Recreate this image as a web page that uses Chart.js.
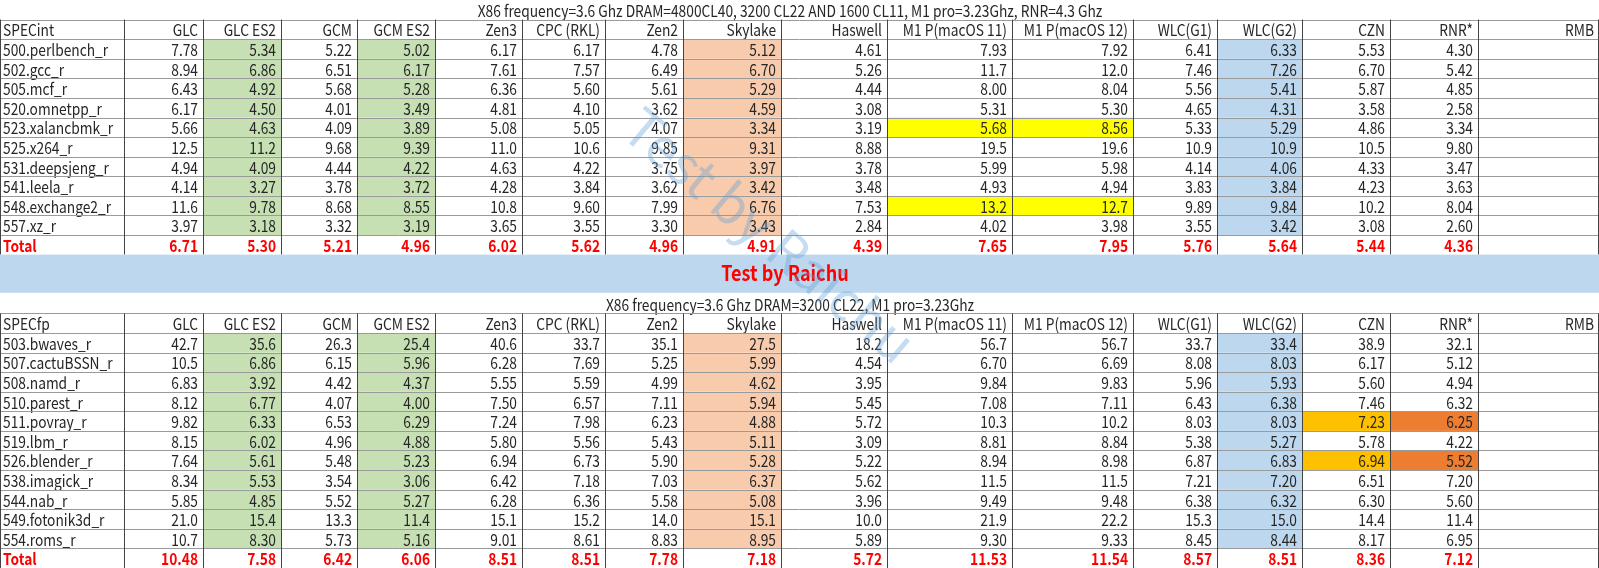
<!DOCTYPE html>
<html><head><meta charset="utf-8">
<script src="https://cdn.jsdelivr.net/npm/chart.js@4"></script>
<style>html,body{margin:0;padding:0;background:#fff}#wrap{width:1599px;height:568px}</style>
</head><body><div id="wrap"><canvas id="c"></canvas></div>
<script>
const columns = ["GLC","GLC ES2","GCM","GCM ES2","Zen3","CPC (RKL)","Zen2","Skylake","Haswell","M1 P(macOS 11)","M1 P(macOS 12)","WLC(G1)","WLC(G2)","CZN","RNR*","RMB"];
const intTitle = "X86 frequency=3.6 Ghz DRAM=4800CL40, 3200 CL22 AND 1600 CL11, M1 pro=3.23Ghz, RNR=4.3 Ghz";
const fpTitle = "X86 frequency=3.6 Ghz DRAM=3200 CL22, M1 pro=3.23Ghz";
const bandText = "Test by Raichu";
const intNames = ["500.perlbench_r","502.gcc_r","505.mcf_r","520.omnetpp_r","523.xalancbmk_r","525.x264_r","531.deepsjeng_r","541.leela_r","548.exchange2_r","557.xz_r"];
const intValues = [
 [7.78,5.34,5.22,5.02,6.17,6.17,4.78,5.12,4.61,7.93,7.92,6.41,6.33,5.53,4.30],
 [8.94,6.86,6.51,6.17,7.61,7.57,6.49,6.70,5.26,11.7,12.0,7.46,7.26,6.70,5.42],
 [6.43,4.92,5.68,5.28,6.36,5.60,5.61,5.29,4.44,8.00,8.04,5.56,5.41,5.87,4.85],
 [6.17,4.50,4.01,3.49,4.81,4.10,3.62,4.59,3.08,5.31,5.30,4.65,4.31,3.58,2.58],
 [5.66,4.63,4.09,3.89,5.08,5.05,4.07,3.34,3.19,5.68,8.56,5.33,5.29,4.86,3.34],
 [12.5,11.2,9.68,9.39,11.0,10.6,9.85,9.31,8.88,19.5,19.6,10.9,10.9,10.5,9.80],
 [4.94,4.09,4.44,4.22,4.63,4.22,3.75,3.97,3.78,5.99,5.98,4.14,4.06,4.33,3.47],
 [4.14,3.27,3.78,3.72,4.28,3.84,3.62,3.42,3.48,4.93,4.94,3.83,3.84,4.23,3.63],
 [11.6,9.78,8.68,8.55,10.8,9.60,7.99,6.76,7.53,13.2,12.7,9.89,9.84,10.2,8.04],
 [3.97,3.18,3.32,3.19,3.65,3.55,3.30,3.43,2.84,4.02,3.98,3.55,3.42,3.08,2.60]];
const intTotal = [6.71,5.30,5.21,4.96,6.02,5.62,4.96,4.91,4.39,7.65,7.95,5.76,5.64,5.44,4.36];
const fpNames = ["503.bwaves_r","507.cactuBSSN_r","508.namd_r","510.parest_r","511.povray_r","519.lbm_r","526.blender_r","538.imagick_r","544.nab_r","549.fotonik3d_r","554.roms_r"];
const fpValues = [
 [42.7,35.6,26.3,25.4,40.6,33.7,35.1,27.5,18.2,56.7,56.7,33.7,33.4,38.9,32.1],
 [10.5,6.86,6.15,5.96,6.28,7.69,5.25,5.99,4.54,6.70,6.69,8.08,8.03,6.17,5.12],
 [6.83,3.92,4.42,4.37,5.55,5.59,4.99,4.62,3.95,9.84,9.83,5.96,5.93,5.60,4.94],
 [8.12,6.77,4.07,4.00,7.50,6.57,7.11,5.94,5.45,7.08,7.11,6.43,6.38,7.46,6.32],
 [9.82,6.33,6.53,6.29,7.24,7.98,6.23,4.88,5.72,10.3,10.2,8.03,8.03,7.23,6.25],
 [8.15,6.02,4.96,4.88,5.80,5.56,5.43,5.11,3.09,8.81,8.84,5.38,5.27,5.78,4.22],
 [7.64,5.61,5.48,5.23,6.94,6.73,5.90,5.28,5.22,8.94,8.98,6.87,6.83,6.94,5.52],
 [8.34,5.53,3.54,3.06,6.42,7.18,7.03,6.37,5.62,11.5,11.5,7.21,7.20,6.51,7.20],
 [5.85,4.85,5.52,5.27,6.28,6.36,5.58,5.08,3.96,9.49,9.48,6.38,6.32,6.30,5.60],
 [21.0,15.4,13.3,11.4,15.1,15.2,14.0,15.1,10.0,21.9,22.2,15.3,15.0,14.4,11.4],
 [10.7,8.30,5.73,5.16,9.01,8.61,8.83,8.95,5.89,9.30,9.33,8.45,8.44,8.17,6.95]];
const fpTotal = [10.48,7.58,6.42,6.06,8.51,8.51,7.78,7.18,5.72,11.53,11.54,8.57,8.51,8.36,7.12];

// layout (styles, not data)
const colEdges = [0,124,203,281,357,435,522,605,683,781,887,1012,1133,1217,1302,1390,1478,1599];
const colFill = {1:"#C6E0B4",3:"#C6E0B4",7:"#F8CBAD",12:"#BDD7EE"};
const FONT = '"Noto Sans CJK SC","Noto Sans",sans-serif';
const SQ = 0.86;

const tablePlugin = {
  id:'table',
  afterDraw(chart){
    const ctx = chart.ctx, X = chart.scales.x, Y = chart.scales.y;
    const px = v => X.getPixelForValue(v), py = v => Y.getPixelForValue(v);
    const cellX = c => [px(colEdges[c]), px(colEdges[c+1])];
    ctx.save();
    ctx.fillStyle="#fff"; ctx.fillRect(0,0,chart.width,chart.height);
    function fill(c,r0,r1,color){const [a,b]=cellX(c);ctx.fillStyle=color;ctx.fillRect(a,py(r0),b-a,py(r1)-py(r0));}
    function sq(t,x,y,align,font,color){
      ctx.save(); ctx.font=font; ctx.fillStyle=color; ctx.textBaseline='middle'; ctx.textAlign=align;
      ctx.translate(x,y); ctx.scale(SQ,1); ctx.fillText(t,0,0); ctx.restore();
    }
    function text(t,c,r,align,color,bold){
      const [a,b]=cellX(c);
      sq(t, align==='left'?a+3:b-5, py(r+0.5)+1, align, (bold?'bold ':'')+'16px '+FONT, color||'#262626');
    }
    function block(start, title, head, names, vals, totals, hi){
      for(let r=0;r<names.length;r++){
        for(const k in colFill) fill(+k+1, start+2+r, start+3+r, colFill[k]);
      }
      hi.forEach(h=>fill(h[1]+1,start+2+h[0],start+3+h[0],h[2]));
      sq(title, px(790), py(start+0.5)+1, 'center', '16px '+FONT, '#262626');
      text(head,0,start+1,'left');
      columns.forEach((h,i)=>text(h,i+1,start+1,'right'));
      names.forEach((n,r)=>{
        text(n,0,start+2+r,'left');
        vals[r].forEach((v,i)=>text(v.toPrecision(3),i+1,start+2+r,'right'));
      });
      const tr=start+2+names.length;
      text('Total',0,tr,'left','#FF0000',true);
      totals.forEach((v,i)=>text(v.toFixed(2),i+1,tr,'right','#FF0000',true));
      ctx.lineWidth=1;
      for(let r=start+1;r<=tr+1;r++){
        ctx.strokeStyle='#9a9a9a'; ctx.beginPath();
        ctx.moveTo(px(0),Math.round(py(r))+0.5); ctx.lineTo(px(1599),Math.round(py(r))+0.5); ctx.stroke();
      }
      ctx.strokeStyle='#444';
      for(let c=0;c<colEdges.length;c++){
        const x=Math.round(px(colEdges[c]))+(c===colEdges.length-1?-0.5:0.5);
        ctx.beginPath(); ctx.moveTo(x,py(start+1)); ctx.lineTo(x,py(tr+1)); ctx.stroke();
      }
    }
    block(0,intTitle,'SPECint',intNames,intValues,intTotal,[[4,9,'#FFFF00'],[4,10,'#FFFF00'],[8,9,'#FFFF00'],[8,10,'#FFFF00']]);
    ctx.fillStyle='#BDD7EE'; ctx.fillRect(px(0),py(13),px(1599)-px(0),py(15)-py(13)-1);
    sq(bandText, px(785), py(14)-1, 'center', 'bold 21px '+FONT, '#FF0000');
    block(15,fpTitle,'SPECfp',fpNames,fpValues,fpTotal,[[4,13,'#FFC000'],[4,14,'#ED7D31'],[6,13,'#FFC000'],[6,14,'#ED7D31']]);
    ctx.translate(px(770),py(12.0)); ctx.rotate(40*Math.PI/180);
    ctx.font='54px '+FONT; ctx.fillStyle='rgba(91,155,213,0.35)'; ctx.textAlign='center'; ctx.textBaseline='middle';
    ctx.fillText(bandText,0,0);
    ctx.restore();
  }
};

new Chart(document.getElementById('c'),{
  type:'scatter',
  data:{datasets:[{data:[]}]},
  options:{responsive:true,maintainAspectRatio:false,animation:false,
    layout:{padding:0},
    plugins:{legend:{display:false},tooltip:{enabled:false}},
    scales:{
      x:{type:'linear',min:0,max:1599,display:false},
      y:{type:'linear',min:0,max:29,reverse:true,display:false}
    }},
  plugins:[tablePlugin]
});
</script></body></html>
